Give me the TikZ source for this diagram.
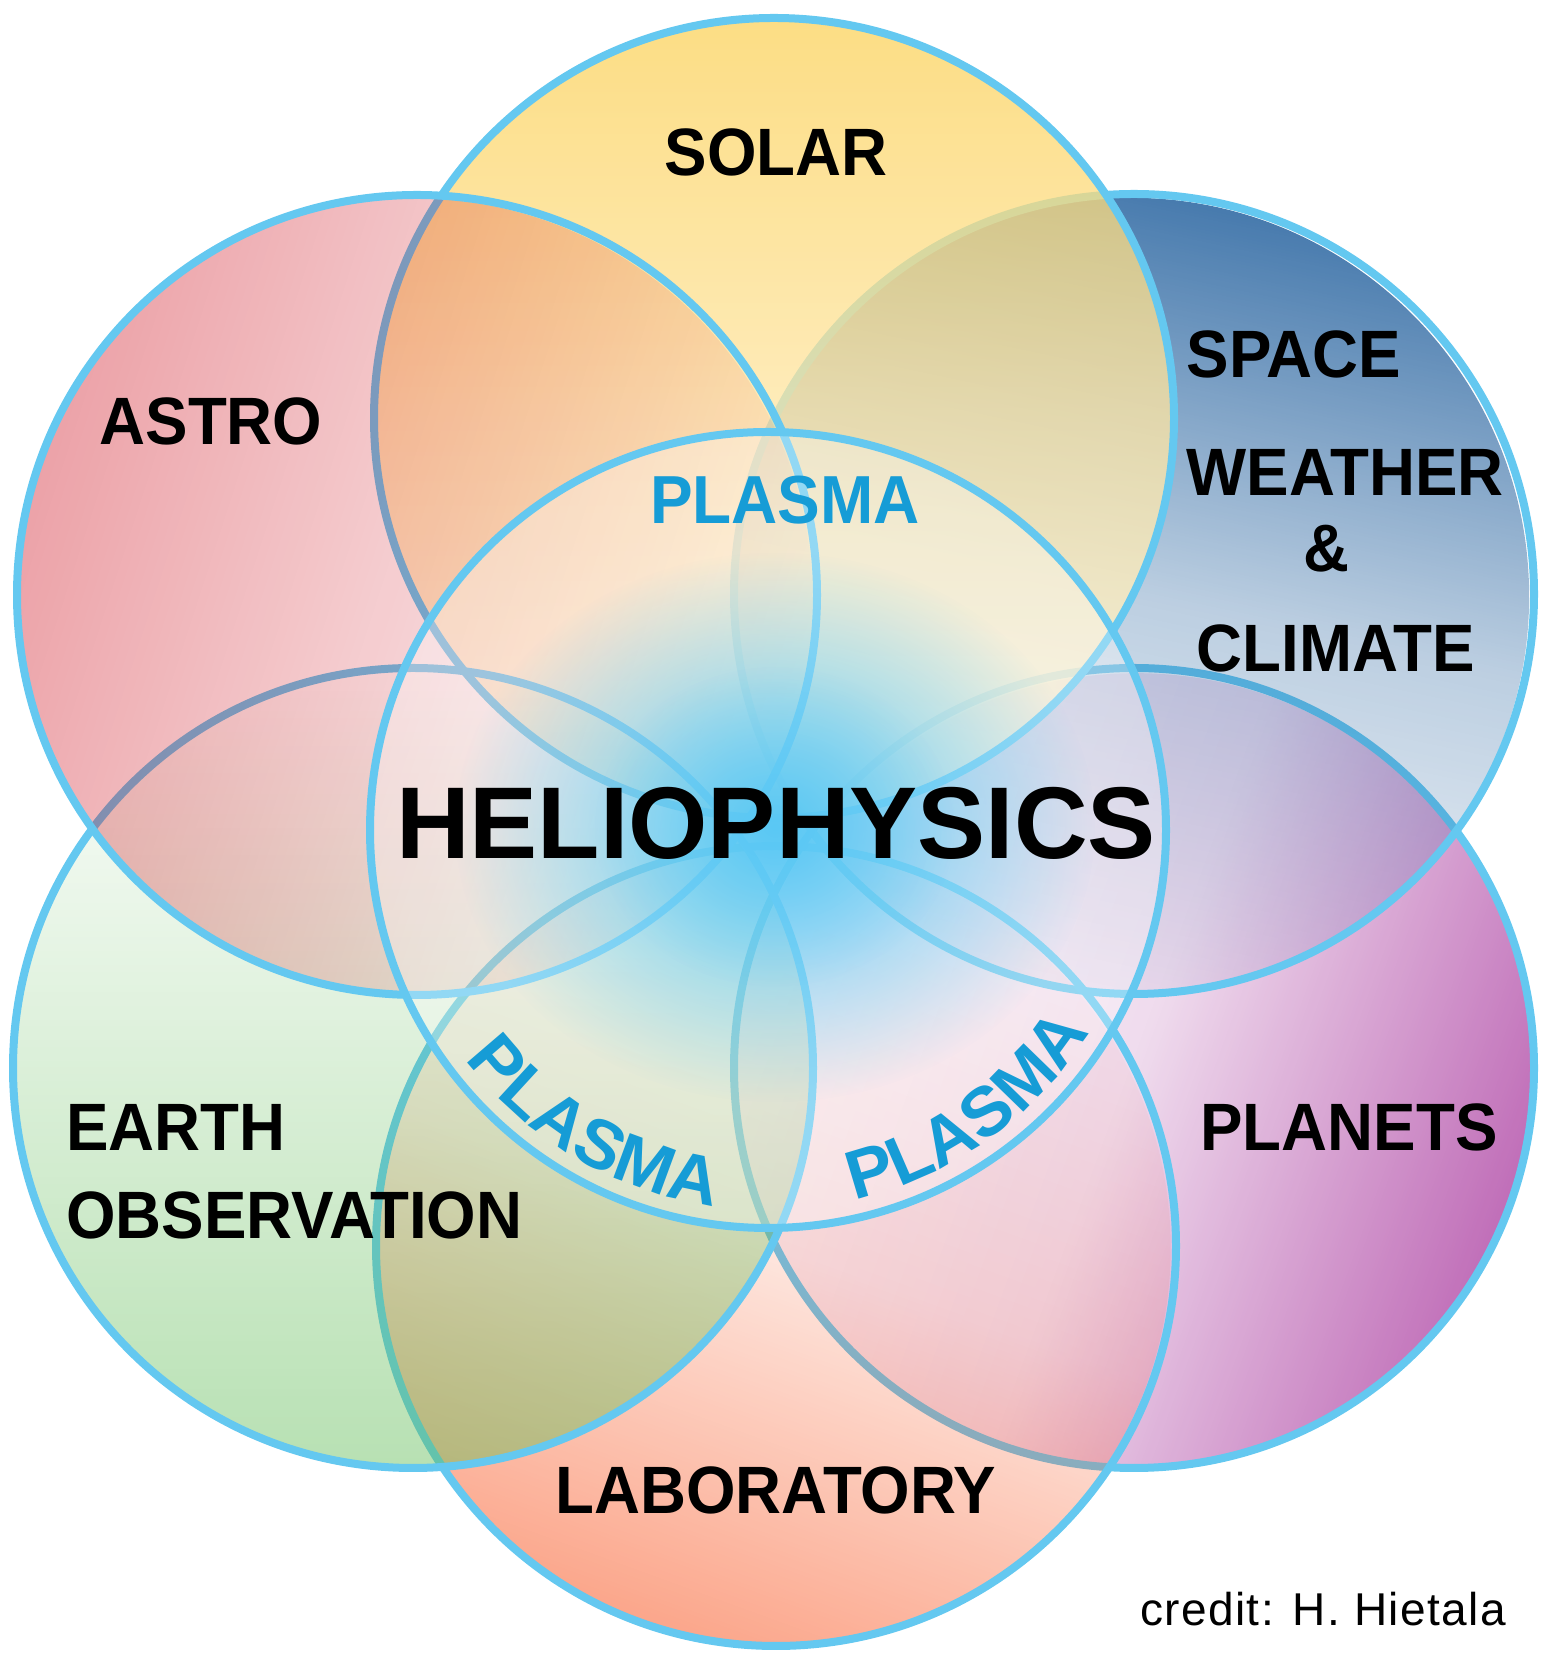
\documentclass[tikz,border=0pt]{standalone}
\usepackage{fontspec}
\setmainfont{Liberation Sans}
\newfontfamily\labelfont{Liberation Sans}[FakeStretch=0.95]
\newfontfamily\plasmafont{Liberation Sans}[FakeStretch=0.94]
\newfontfamily\arcfont{Liberation Sans}[FakeStretch=1.02]
\newfontfamily\creditfont{Liberation Sans}[LetterSpace=3]
\usetikzlibrary{fadings,decorations.text}

\definecolor{ringblue}{RGB}{100,200,240}
\definecolor{plasmablue}{RGB}{22,156,214}
\definecolor{glowcyan}{RGB}{90,200,244}
\definecolor{solarTop}{RGB}{252,211,94}
\definecolor{solarMid}{RGB}{254,230,165}
\definecolor{solarBot}{RGB}{255,246,218}
\definecolor{astrocol}{RGB}{205,5,20}
\definecolor{spacecol}{RGB}{40,100,160}
\definecolor{planetcol}{RGB}{160,35,148}
\definecolor{labcol}{RGB}{249,93,43}
\definecolor{earthcol}{RGB}{100,190,90}

\tikzfading[name=astrofade, left color=transparent!63, right color=transparent!100]
\tikzfading[name=spacefade, top color=transparent!14, bottom color=transparent!96, middle color=transparent!69]
\tikzfading[name=planetfade, top color=transparent!95, bottom color=transparent!34, middle color=transparent!84]
\tikzfading[name=labfade, top color=transparent!100, bottom color=transparent!45, middle color=transparent!85]
\tikzfading[name=earthfade, top color=transparent!100, bottom color=transparent!54]
\tikzfading[name=glowfade, inner color=transparent!0, outer color=transparent!100]

\newcommand\plasmafmt{\plasmafont\bfseries\fontsize{68pt}{68pt}\selectfont}
\newcommand\arcfmt{\arcfont\bfseries\fontsize{69pt}{69pt}\selectfont}

\tikzset{
  ring/.style={draw=ringblue, line width=8pt},
  lbl/.style={font=\labelfont\bfseries\fontsize{67pt}{67pt}\selectfont, inner sep=0pt, anchor=base, text=black},
  plasmalbl/.style={font=\plasmafmt, inner sep=0pt, anchor=base, text=plasmablue},
  heliolbl/.style={font=\bfseries\fontsize{102pt}{102pt}\selectfont, inner sep=0pt, anchor=base, text=black},
  creditlbl/.style={font=\creditfont\fontsize{46pt}{46pt}\selectfont, inner sep=0pt, anchor=base, text=black},
  arcplasma/.style={decorate, decoration={text along path, text={|\arcfmt|PLASMA}, text align=center, text color=plasmablue}}
}

\begin{document}
\begin{tikzpicture}[x=1pt,y=1pt]
\useasboundingbox (0,0) rectangle (1558,1672);
\fill[white] (0,0) rectangle (1558,1672);

% circle centres
\coordinate (Cc) at (768,842);
\coordinate (Ss) at (774,1254);
\coordinate (Ll) at (776,426);
\coordinate (Aa) at (417,1077);
\coordinate (Ee) at (413,604);
\coordinate (Ww) at (1134,1078);
\coordinate (Pp) at (1134,604);
\coordinate (Gg) at (775,845);

% outer circles
\fill[planetcol, path fading=planetfade, fading angle=70] (Pp) circle[radius=400pt];
\draw[ring] (Pp) circle[radius=400pt];

\fill[spacecol, path fading=spacefade, fading angle=-12] (Ww) circle[radius=400pt];
\draw[ring] (Ww) circle[radius=400pt];

\shade[top color=solarTop, bottom color=solarBot, middle color=solarMid, fill opacity=0.76] (Ss) circle[radius=400pt];
\draw[ring] (Ss) circle[radius=400pt];

\fill[labcol, path fading=labfade, fading angle=-20] (Ll) circle[radius=400pt];
\draw[ring] (Ll) circle[radius=400pt];

\fill[earthcol, path fading=earthfade] (Ee) circle[radius=400pt];
\draw[ring] (Ee) circle[radius=400pt];

\fill[astrocol, path fading=astrofade, fading angle=-18] (Aa) circle[radius=400pt];
\draw[ring] (Aa) circle[radius=400pt];

% central circle
\fill[white, fill opacity=0.3] (Cc) circle[radius=398pt];
\fill[glowcyan, path fading=glowfade] (Gg) ellipse[x radius=320pt, y radius=275pt];
\fill[glowcyan, path fading=glowfade, fill opacity=0.5] (Gg) ellipse[x radius=180pt, y radius=160pt];
\draw[ring] (Cc) circle[radius=398pt];

% labels
\node[lbl] (solarL) at (776,1496) {SOLAR};
\node[lbl] (astroL) at (211,1227) {ASTRO};
\node[lbl] (spaceL) at (1294,1294) {SPACE};
\node[lbl] (weatherL) at (1345,1176) {WEATHER};
\node[lbl] (ampL) at (1326,1100) {\&};
\node[lbl] (climateL) at (1336,1000) {CLIMATE};
\node[lbl, anchor=base west] (earthL) at (66,521) {EARTH};
\node[lbl, anchor=base west] (obsL) at (66,433) {OBSERVATION};
\node[lbl] (planetsL) at (1349,521) {PLANETS};
\node[lbl] (labL) at (776,158) {LABORATORY};
\node[plasmalbl] (plasmaTop) at (785,1148) {PLASMA};
\node[heliolbl] (helioL) at (776,813) {HELIOPHYSICS};
\node[creditlbl] (creditL) at (1323,46) {credit: H. Hietala};

% curved PLASMA labels
\path[arcplasma] ([shift={(202:380pt)}]Cc) arc[start angle=202, end angle=277, radius=380pt];
\path[arcplasma] ([shift={(268:380pt)}]Cc) arc[start angle=268, end angle=343, radius=380pt];
\end{tikzpicture}
\end{document}
